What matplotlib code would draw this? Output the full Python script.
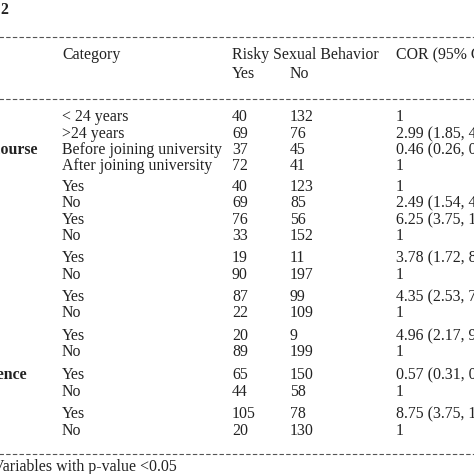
import matplotlib.pyplot as plt

plt.rcParams['font.family'] = ['Liberation Serif', 'DejaVu Serif']

# table content (cropped table, right/left side is cut off in the reference)
categories = ['< 24 years', '>24 years', 'Before joining university', 'After joining university',
              'Yes', 'No', 'Yes', 'No', 'Yes', 'No', 'Yes', 'No',
              'Yes', 'No', 'Yes', 'No', 'Yes', 'No']
yes_counts = [40, 69, 37, 72, 40, 69, 76, 33, 19, 90, 87, 22, 20, 89, 65, 44, 105, 20]
no_counts = [132, 76, 45, 41, 123, 85, 56, 152, 11, 197, 99, 109, 9, 199, 150, 58, 78, 130]
cor = ['1', '2.99 (1.85, 4.83)*', '0.46 (0.26, 0.81)*', '1',
       '1', '2.49 (1.54, 4.03)*', '6.25 (3.75, 10.4)*', '1',
       '3.78 (1.72, 8.30)*', '1', '4.35 (2.53, 7.47)*', '1',
       '4.96 (2.17, 9.33)*', '1', '0.57 (0.31, 0.93)*', '1',
       '8.75 (3.75, 12.1)*', '1']
row_y = [117, 134, 150, 166, 187, 203, 220, 236, 258, 275,
         297, 313, 336, 352, 375, 392, 414, 431]
side_labels = {2: 'Sexual intercourse', 14: 'Experience'}

W = H = 474
fig = plt.figure(figsize=(4.74, 4.74), dpi=100)
ax = fig.add_axes([0, 0, 1, 1])
ax.set_xlim(0, W)
ax.set_ylim(H, 0)
ax.axis('off')

fs = 11.4
col = '#222222'
ax.text(0, 10, '2', fontsize=fs, color=col, va='center', weight='bold')
for y in (37, 99, 454):
    ax.plot([-5, W + 5], [y, y], color='#555555', lw=0.8, ls=(0, (4, 2)))

ax.text(62, 55, 'Category', fontsize=fs, color=col, va='center')
ax.text(232, 55, 'Risky Sexual Behavior', fontsize=fs, color=col, va='center')
ax.text(396, 55, 'COR (95% CI)', fontsize=fs, color=col, va='center')
ax.text(232, 74, 'Yes', fontsize=fs, color=col, va='center')
ax.text(290, 74, 'No', fontsize=fs, color=col, va='center')

for i, y in enumerate(row_y):
    ax.text(62, y, categories[i], fontsize=fs, color=col, va='center')
    ax.text(232, y, str(yes_counts[i]), fontsize=fs, color=col, va='center')
    ax.text(290, y, str(no_counts[i]), fontsize=fs, color=col, va='center')
    ax.text(396, y, cor[i], fontsize=fs, color=col, va='center')
    if i in side_labels:
        ax.text(38 if i == 2 else 27, y, side_labels[i], fontsize=fs, color=col,
                va='center', ha='right', weight='bold')

ax.text(-7, 467, 'Variables with p-value <0.05', fontsize=fs, color=col, va='center')

fig.savefig('out.png', dpi=100)
